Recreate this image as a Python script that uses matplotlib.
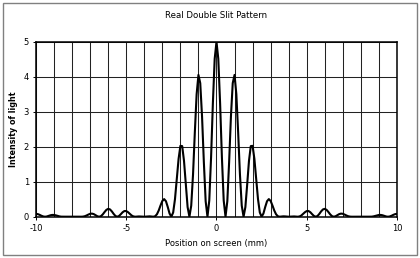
import numpy as np
import matplotlib
matplotlib.use("Agg")
from matplotlib import pyplot as plt
from matplotlib.patches import Rectangle

# position on screen, mm (step 0.1)
pozicija = np.linspace(-10, 10, 201)

# intensity of light, from -10 to +10 mm
intensyvumas = [
    0.081, 0.074, 0.054, 0.028, 0.008, 0.000, 0.007, 0.024, 0.041, 0.051,
    0.050, 0.039, 0.024, 0.010, 0.002, 0.000, 0.001, 0.002, 0.002, 0.001,
    0.000, 0.001, 0.002, 0.003, 0.001, 0.000, 0.003, 0.014, 0.035, 0.061,
    0.083, 0.089, 0.075, 0.045, 0.014, 0.000, 0.017, 0.067, 0.135, 0.196,
    0.225, 0.209, 0.154, 0.082, 0.022, 0.000, 0.021, 0.072, 0.128, 0.163,
    0.162, 0.129, 0.080, 0.035, 0.008, 0.000, 0.004, 0.008, 0.007, 0.003,
    0.000, 0.003, 0.009, 0.011, 0.006, 0.000, 0.014, 0.070, 0.179, 0.322,
    0.450, 0.504, 0.443, 0.279, 0.091, 0.000, 0.122, 0.501, 1.069, 1.653,
    2.026, 2.018, 1.598, 0.916, 0.274, 0.000, 0.314, 1.205, 2.411, 3.503,
    4.053, 3.818, 2.864, 1.560, 0.443, 0.000, 0.462, 1.696, 3.246, 4.513,
    5.000,
    4.513, 3.246, 1.696, 0.462, 0.000, 0.443, 1.560, 2.864, 3.818,
    4.053, 3.503, 2.411, 1.205, 0.314, 0.000, 0.274, 0.916, 1.598, 2.018,
    2.026, 1.653, 1.069, 0.501, 0.122, 0.000, 0.091, 0.279, 0.443, 0.504,
    0.450, 0.322, 0.179, 0.070, 0.014, 0.000, 0.006, 0.011, 0.009, 0.003,
    0.000, 0.003, 0.007, 0.008, 0.004, 0.000, 0.008, 0.035, 0.080, 0.129,
    0.162, 0.163, 0.128, 0.072, 0.021, 0.000, 0.022, 0.082, 0.154, 0.209,
    0.225, 0.196, 0.135, 0.067, 0.017, 0.000, 0.014, 0.045, 0.075, 0.089,
    0.083, 0.061, 0.035, 0.014, 0.003, 0.000, 0.001, 0.003, 0.002, 0.001,
    0.000, 0.001, 0.002, 0.002, 0.001, 0.000, 0.002, 0.010, 0.024, 0.039,
    0.050, 0.051, 0.041, 0.024, 0.007, 0.000, 0.008, 0.028, 0.054, 0.074,
    0.081,
]

x_zymes = [-10, -5, 0, 5, 10]
y_zymes = [0, 1, 2, 3, 4, 5]

fig = plt.figure(figsize=(4.2, 2.58), dpi=100)
ax = fig.add_axes([0.0857, 0.160, 0.8595, 0.678])

# vertical grid every 1 mm, horizontal every 1 unit
for gx in range(-10, 11):
    ax.axvline(gx, color="#222222", lw=0.75, zorder=1)
for gy in y_zymes:
    ax.axhline(gy, color="#222222", lw=0.75, zorder=1)

ax.plot(pozicija, intensyvumas, color="black", lw=1.5, zorder=3)

ax.set_xlim(-10, 10)
ax.set_ylim(0, 5)
ax.set_xticks(x_zymes)
ax.set_yticks(y_zymes)
ax.set_xticklabels([str(v) for v in x_zymes])
ax.tick_params(labelsize=6, length=2.5, width=0.7, pad=2.5, direction="out")
for s in ax.spines.values():
    s.set_linewidth(1.1)

ax.set_title("Real Double Slit Pattern", fontsize=6.2, pad=17)
ax.set_xlabel("Position on screen (mm)", fontsize=6, labelpad=4.5)
ax.set_ylabel("Intensity of light", fontsize=5.8, fontweight="bold", labelpad=4)

# outer chart border
fig.patches.append(Rectangle((0.006, 0.01), 0.988, 0.98, transform=fig.transFigure,
                             fill=False, edgecolor="#808080", lw=1.0))

fig.savefig("out.png", dpi=100)
